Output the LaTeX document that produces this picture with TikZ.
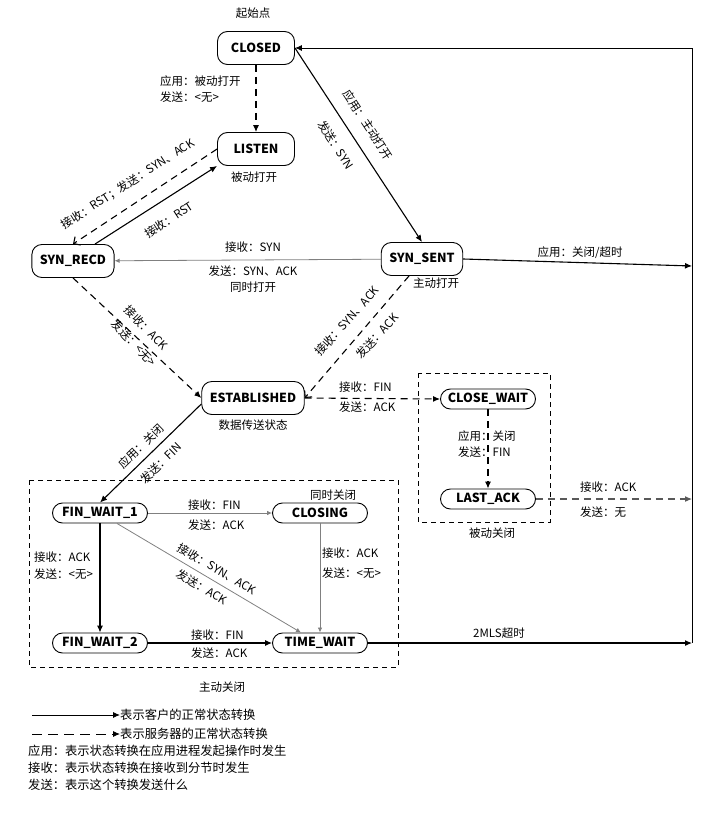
\documentclass[tikz,border=0pt]{standalone}
\usepackage{fontspec}
\setmainfont{Noto Sans CJK SC}
\usetikzlibrary{arrows.meta,positioning,calc}

\begin{document}
\begin{tikzpicture}[x=1pt,y=-1pt,>={Latex[length=7pt,width=6pt]},
    state/.style={draw,line width=0.9pt,rounded corners=10pt,minimum width=77pt,minimum height=33pt,inner xsep=8pt,font=\fontsize{12.5}{14}\selectfont\bfseries},
    pill/.style={draw,line width=0.9pt,rounded corners=10pt,minimum width=95pt,minimum height=20pt,inner sep=0pt,font=\fontsize{12.5}{14}\selectfont\bfseries},
    lbl/.style={font=\fontsize{11.5}{13}\selectfont,inner sep=0pt},
    legend/.style={font=\fontsize{12.3}{14}\selectfont,inner sep=0pt,anchor=west},
    client/.style={->,line width=1.1pt},
    server/.style={->,line width=1.1pt,dash pattern=on 7pt off 5pt},
    openhead/.style={-{Straight Barb[length=5pt,width=10pt]}},
    other/.style={->,gray,line width=0.8pt,>={Latex[length=5pt,width=4.5pt]}},
    region/.style={draw,line width=0.8pt,dash pattern=on 5pt off 4pt}]
  \useasboundingbox (0,0) rectangle (705,813);

  % states
  \node[state] (closed) at (256,48) {CLOSED};
  \node[state] (listen) at (256,149) {LISTEN};
  \node[state] (synrecd) at (73,261) {SYN\_RECD};
  \node[state] (synsent) at (422,259) {SYN\_SENT};
  \node[state] (estab) at (253,398) {ESTABLISHED};
  \node[pill] (closewait) at (488,399) {CLOSE\_WAIT};
  \node[pill] (lastack) at (488,499) {LAST\_ACK};
  \node[pill] (finwait1) at (100,513) {FIN\_WAIT\_1};
  \node[pill] (closing) at (320,513) {CLOSING};
  \node[pill] (finwait2) at (100,643) {FIN\_WAIT\_2};
  \node[pill] (timewait) at (320,643) {TIME\_WAIT};

  % dashed regions
  \draw[region] (418,373) rectangle (550,522);
  \draw[region] (29,480) rectangle (398,667);

  % right bus
  \coordinate (busTop) at (692,48);
  \coordinate (busSyn) at (692,266);
  \coordinate (busAck) at (692,499);
  \coordinate (busBot) at (692,643);

  % transitions
  \draw[server] (closed) -- (listen);
  \draw[client] (closed.east) -- (synsent.north);
  \draw[server,openhead] (listen.west) -- (synrecd.north);
  \draw[client] ([xshift=22pt]synrecd.north) -- (listen.south west);
  \draw[other] (synsent) -- (synrecd);
  \draw[server] (synrecd.south) -- (estab.west);
  \draw[server,openhead] ([xshift=-13pt]synsent.south) -- (estab.east);
  \draw[client] (synsent.east) -- (busSyn);
  \draw[server] (estab.east) -- (closewait.west);
  \draw[server] (closewait) -- (lastack);
  \draw[server,black!65] (lastack.east) -- (busAck);
  \draw[client] ([yshift=-6pt]estab.west) -- (finwait1.north);
  \draw[other] (finwait1) -- (closing);
  \draw[client] (finwait1) -- (finwait2);
  \draw[other] ([xshift=17pt]finwait1.south) -- ([xshift=-19pt]timewait.north);
  \draw[other] (closing) -- (timewait);
  \draw[client] (finwait2) -- (timewait);
  \draw[client] (timewait.east) -- (busBot);
  \draw[->,line width=0.9pt] (busBot) -- (busTop) -- (closed.east);

  % labels
  \node[lbl] at (253,13) {起始点};
  \node[lbl,anchor=west] at (160,81) {应用：被动打开};
  \node[lbl,anchor=west] at (160,97) {发送：<无>};
  \node[lbl] at (254,177) {被动打开};
  \node[lbl,rotate=-57] at (368,125) {应用：主动打开};
  \node[lbl,rotate=-57] at (336,145) {发送：SYN};
  \node[lbl,rotate=33] at (128,184) {接收：RST；发送：SYN、ACK};
  \node[lbl,rotate=33] at (169,220) {接收：RST};
  \node[lbl] at (253,247) {接收：SYN};
  \node[lbl] at (253,271) {发送：SYN、ACK};
  \node[lbl] at (253,287) {同时打开};
  \node[lbl] at (436,283) {主动打开};
  \node[lbl] at (580,253) {应用：关闭/超时};
  \node[lbl,rotate=-46] at (146,328) {接收：ACK};
  \node[lbl,rotate=-46] at (134,343) {发送：<无>};
  \node[lbl,rotate=48] at (347,321) {接收：SYN、ACK};
  \node[lbl,rotate=48] at (377,336) {发送：ACK};
  \node[lbl,anchor=west] at (339,387) {接收：FIN};
  \node[lbl,anchor=west] at (339,407) {发送：ACK};
  \node[lbl] at (253,425) {数据传送状态};
  \node[lbl,anchor=west] at (458,436) {应用：关闭};
  \node[lbl,anchor=west] at (458,452) {发送：FIN};
  \node[lbl] at (492,533) {被动关闭};
  \node[lbl,anchor=west] at (580,487) {接收：ACK};
  \node[lbl,anchor=west] at (580,512) {发送：无};
  \node[lbl,rotate=44] at (141,446) {应用：关闭};
  \node[lbl,rotate=44] at (161,463) {发送：FIN};
  \node[lbl] at (333,495) {同时关闭};
  \node[lbl,anchor=west] at (188,505) {接收：FIN};
  \node[lbl,anchor=west] at (188,525) {发送：ACK};
  \node[lbl,anchor=west] at (34,557) {接收：ACK};
  \node[lbl,anchor=west] at (34,574) {发送：<无>};
  \node[lbl,rotate=-30] at (217,569) {接收：SYN、ACK};
  \node[lbl,rotate=-30] at (202,587) {发送：ACK};
  \node[lbl,anchor=west] at (322,553) {接收：ACK};
  \node[lbl,anchor=west] at (322,573) {发送：<无>};
  \node[lbl,anchor=west] at (191,635) {接收：FIN};
  \node[lbl,anchor=west] at (191,653) {发送：ACK};
  \node[lbl] at (499,633) {2MLS超时};
  \node[lbl] at (222,687) {主动关闭};

  % legend
  \coordinate (legA) at (32,715);
  \coordinate (legB) at (32,734);
  \node[legend] (legClient) at (120,715) {表示客户的正常状态转换};
  \node[legend] (legServer) at (120,734) {表示服务器的正常状态转换};
  \draw[client,line width=0.9pt] (legA) -- (legClient.west);
  \draw[server,line width=0.9pt,dash pattern=on 10pt off 6pt] (legB) -- (legServer.west);
  \node[legend] at (28,751) {应用：表示状态转换在应用进程发起操作时发生};
  \node[legend] at (28,768) {接收：表示状态转换在接收到分节时发生};
  \node[legend] at (28,785) {发送：表示这个转换发送什么};
\end{tikzpicture}
\end{document}
